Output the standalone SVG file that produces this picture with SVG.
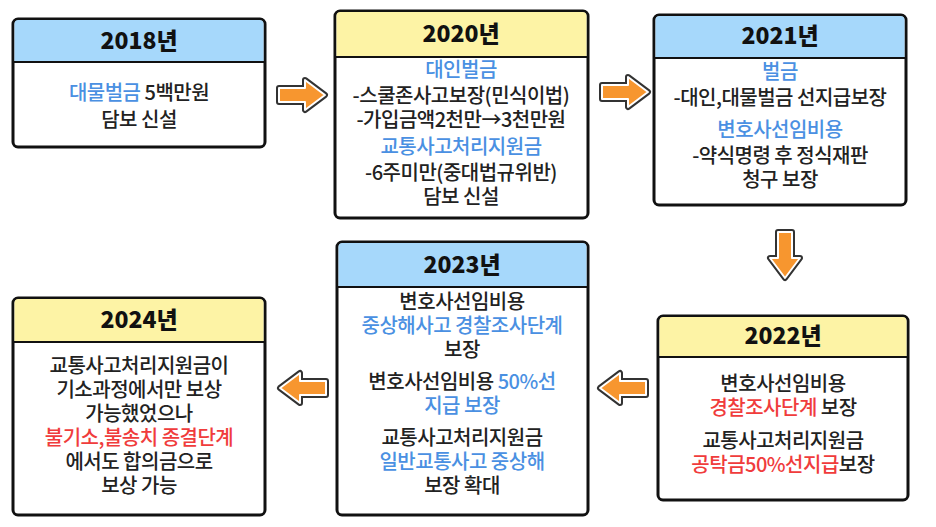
<svg xmlns="http://www.w3.org/2000/svg" width="936" height="527" viewBox="0 0 936 527">
<style>
.box{fill:#fff;stroke:#111;stroke-width:3}
.hb{fill:#a6d8fb}.hy{fill:#fdf3a5}
.hl{stroke:#111;stroke-width:2}
.h{font-family:"Noto Sans CJK KR","Noto Sans",sans-serif;font-weight:900;font-size:23px;fill:#111;text-anchor:middle}
.t{font-family:"Noto Sans CJK KR","Noto Sans",sans-serif;font-weight:500;font-size:20px;fill:#222;text-anchor:middle;letter-spacing:-0.5px}
.b{fill:#4a90e2}.r{fill:#f03c3c}
.ao{fill:none;stroke:#333;stroke-width:6;stroke-linejoin:round}
.ai{fill:#f7962f;stroke:#fff;stroke-width:2;stroke-linejoin:round}
</style>
<defs>
<path id="ar" d="M0,8 H26 V0 L46,15 L26,30 V22 H0 Z"/>
</defs>
<rect width="936" height="527" fill="#fff"/>
<g id="connectors">
<g transform="translate(279,80)"><use href="#ar" class="ao"/><use href="#ar" class="ai"/></g>
<g transform="translate(602,77)"><use href="#ar" class="ao"/><use href="#ar" class="ai"/></g>
<g transform="translate(800,232) rotate(90)"><use href="#ar" class="ao"/><use href="#ar" class="ai"/></g>
<g transform="translate(646,403) rotate(180)"><use href="#ar" class="ao"/><use href="#ar" class="ai"/></g>
<g transform="translate(326,403) rotate(180)"><use href="#ar" class="ao"/><use href="#ar" class="ai"/></g>
</g>
<g id="n2018">
<rect x="13" y="19" width="252" height="128" rx="5" class="box"/>
<path d="M14.5,62 V24 a4,4 0 0 1 4,-4 H259.5 a4,4 0 0 1 4,4 V62 Z" class="hb"/>
<line x1="14" y1="62" x2="264" y2="62" class="hl"/>
<text x="139" y="49" class="h">2018년</text>
<text x="139" y="100" class="t"><tspan class="b">대물벌금</tspan> 5백만원</text>
<text x="139" y="127" class="t">담보 신설</text>
</g>
<g id="n2020">
<rect x="335" y="11" width="253" height="207" rx="5" class="box"/>
<path d="M336.5,57 V16 a4,4 0 0 1 4,-4 H582.5 a4,4 0 0 1 4,4 V57 Z" class="hy"/>
<line x1="336" y1="57" x2="587" y2="57" class="hl"/>
<text x="461" y="42" class="h">2020년</text>
<text x="461" y="77" class="t b">대인벌금</text>
<text x="461" y="103" class="t">-스쿨존사고보장(민식이법)</text>
<text x="461" y="127" class="t">-가입금액2천만→3천만원</text>
<text x="461" y="154" class="t b">교통사고처리지원금</text>
<text x="461" y="180" class="t">-6주미만(중대법규위반)</text>
<text x="461" y="204" class="t">담보 신설</text>
</g>
<g id="n2021">
<rect x="654" y="15" width="252" height="190" rx="5" class="box"/>
<path d="M655.5,58 V20 a4,4 0 0 1 4,-4 H900.5 a4,4 0 0 1 4,4 V58 Z" class="hb"/>
<line x1="655" y1="58" x2="905" y2="58" class="hl"/>
<text x="780" y="44" class="h">2021년</text>
<text x="780" y="79" class="t b">벌금</text>
<text x="780" y="105" class="t">-대인,대물벌금 선지급보장</text>
<text x="780" y="137" class="t b">변호사선임비용</text>
<text x="780" y="163" class="t">-약식명령 후 정식재판</text>
<text x="780" y="187" class="t">청구 보장</text>
</g>
<g id="n2022">
<rect x="658" y="316" width="250" height="184" rx="5" class="box"/>
<path d="M659.5,357 V321 a4,4 0 0 1 4,-4 H902.5 a4,4 0 0 1 4,4 V357 Z" class="hy"/>
<line x1="659" y1="357" x2="907" y2="357" class="hl"/>
<text x="783" y="344" class="h">2022년</text>
<text x="783" y="391" class="t">변호사선임비용</text>
<text x="783" y="415" class="t"><tspan class="r">경찰조사단계</tspan> 보장</text>
<text x="783" y="448" class="t">교통사고처리지원금</text>
<text x="783" y="472" class="t"><tspan class="r">공탁금50%선지급</tspan>보장</text>
</g>
<g id="n2023">
<rect x="337" y="242" width="251" height="273" rx="5" class="box"/>
<path d="M338.5,287 V247 a4,4 0 0 1 4,-4 H582.5 a4,4 0 0 1 4,4 V287 Z" class="hb"/>
<line x1="338" y1="287" x2="587" y2="287" class="hl"/>
<text x="462" y="273" class="h">2023년</text>
<text x="462" y="309" class="t">변호사선임비용</text>
<text x="462" y="333" class="t b">중상해사고 경찰조사단계</text>
<text x="462" y="357" class="t">보장</text>
<text x="462" y="389" class="t">변호사선임비용 <tspan class="b">50%선</tspan></text>
<text x="462" y="413" class="t b">지급 보장</text>
<text x="462" y="445" class="t">교통사고처리지원금</text>
<text x="462" y="469" class="t b">일반교통사고 중상해</text>
<text x="462" y="493" class="t">보장 확대</text>
</g>
<g id="n2024">
<rect x="13" y="298" width="252" height="217" rx="5" class="box"/>
<path d="M14.5,342 V303 a4,4 0 0 1 4,-4 H259.5 a4,4 0 0 1 4,4 V342 Z" class="hy"/>
<line x1="14" y1="342" x2="264" y2="342" class="hl"/>
<text x="139" y="328" class="h">2024년</text>
<text x="139" y="373" class="t">교통사고처리지원금이</text>
<text x="139" y="397" class="t">기소과정에서만 보상</text>
<text x="139" y="421" class="t">가능했었으나</text>
<text x="139" y="445" class="t r">불기소,불송치 종결단계</text>
<text x="139" y="469" class="t">에서도 합의금으로</text>
<text x="139" y="493" class="t">보상 가능</text>
</g>
</svg>
